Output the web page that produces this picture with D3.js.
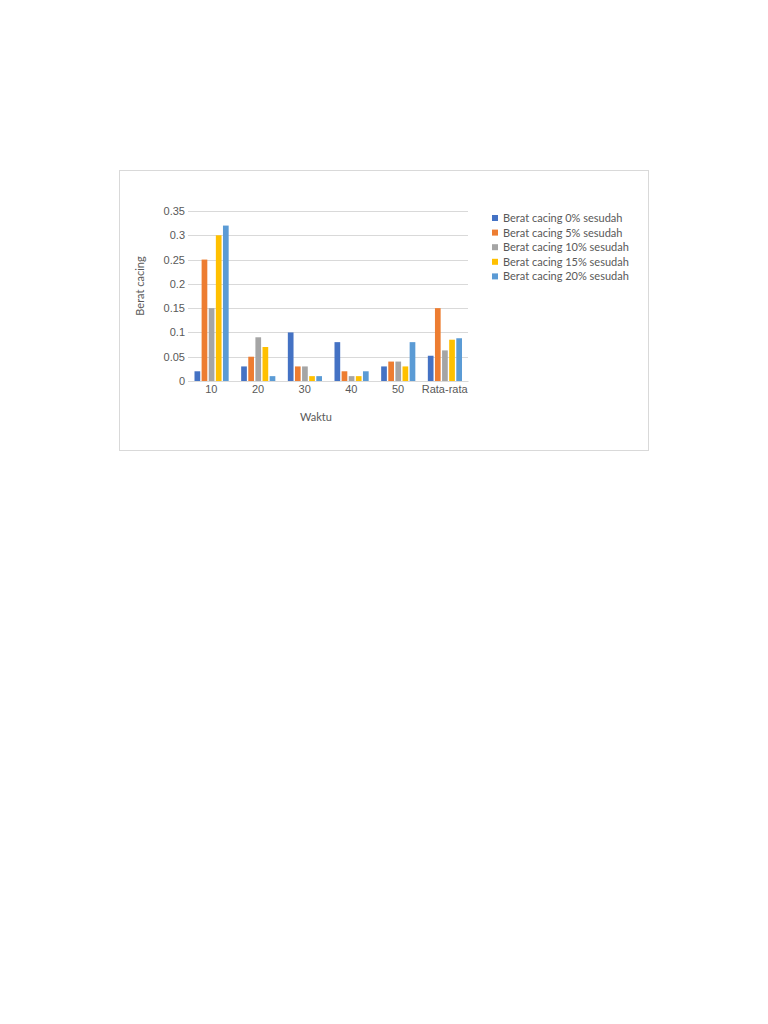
<html>
<head>
<script src="https://cdn.jsdelivr.net/npm/d3@7"></script>
<style>
  body{ margin:0; background:#fff; }
  svg{ font-family: Lato, "Open Sans", sans-serif; }
  .grid line{ stroke:#d9d9d9; }
  .axis text{ fill:#595959; font-size:11px; }
</style>
</head>
<body>
<div id="container"></div>
<script>
var categories = ["10", "20", "30", "40", "50", "Rata-rata"];
var seriesNames = ["Berat cacing 0% sesudah", "Berat cacing 5% sesudah", "Berat cacing 10% sesudah", "Berat cacing 15% sesudah", "Berat cacing 20% sesudah"];
var s0 = [0.02, 0.03, 0.10, 0.08, 0.03, 0.052];
var s5 = [0.25, 0.05, 0.03, 0.02, 0.04, 0.15];
var s10 = [0.15, 0.09, 0.03, 0.01, 0.04, 0.063];
var s15 = [0.30, 0.07, 0.01, 0.01, 0.03, 0.085];
var s20 = [0.32, 0.01, 0.01, 0.02, 0.08, 0.088];
var yTicks = [0, 0.05, 0.1, 0.15, 0.2, 0.25, 0.3, 0.35];
var colors = ["#4472C4", "#ED7D31", "#A5A5A5", "#FFC000", "#5B9BD5"];

var series = [s0, s5, s10, s15, s20];

var svg = d3.select("#container").append("svg")
  .attr("width", 768).attr("height", 1024);

// chart frame
svg.append("rect")
  .attr("x", 119.5).attr("y", 170.5)
  .attr("width", 529).attr("height", 280)
  .attr("fill", "#fff").attr("stroke", "#d9d9d9");

var plotL = 188, plotR = 468, plotT = 211, plotB = 381;

var x = d3.scaleBand().domain(categories).range([plotL, plotR]).paddingInner(0).paddingOuter(0);
var xs = d3.scaleBand().domain(d3.range(series.length)).range([6.5, x.bandwidth() - 6]).paddingInner(0.2);
var y = d3.scaleLinear().domain([0, 0.35]).range([plotB, plotT]);

// gridlines
svg.append("g").attr("class", "grid")
  .selectAll("line").data(yTicks).enter().append("line")
  .attr("x1", plotL).attr("x2", plotR)
  .attr("y1", function(d){ return Math.round(y(d)) + 0.5; })
  .attr("y2", function(d){ return Math.round(y(d)) + 0.5; });

// bars
var groups = svg.append("g").selectAll("g").data(series).enter().append("g")
  .attr("fill", function(d, i){ return colors[i]; });

groups.each(function(vals, si){
  d3.select(this).selectAll("rect").data(vals).enter().append("rect")
    .attr("x", function(d, i){ return x(categories[i]) + xs(si); })
    .attr("width", xs.bandwidth())
    .attr("y", function(d){ return y(d); })
    .attr("height", function(d){ return y(0) - y(d); });
});

// y axis
var yAxis = d3.axisLeft(y).tickValues(yTicks).tickSize(0).tickPadding(0)
  .tickFormat(function(d){ return d === 0 ? "0" : String(d); });
var ya = svg.append("g").attr("class", "axis")
  .attr("transform", "translate(" + (plotL - 3) + ",0)")
  .call(yAxis);
ya.select(".domain").remove();

// x axis
var xAxis = d3.axisBottom(x).tickSize(0).tickPadding(4);
var xa = svg.append("g").attr("class", "axis")
  .attr("transform", "translate(0," + plotB + ")")
  .call(xAxis);
xa.select(".domain").attr("stroke", "#d9d9d9");

// axis titles
svg.append("text")
  .attr("transform", "translate(144," + ((plotT + plotB) / 2 - 10) + ") rotate(-90)")
  .attr("text-anchor", "middle")
  .attr("fill", "#595959").attr("font-size", 11)
  .text("Berat cacing");

svg.append("text")
  .attr("x", 316).attr("y", 421)
  .attr("text-anchor", "middle")
  .attr("fill", "#595959").attr("font-size", 11)
  .text("Waktu");

// legend
var legend = svg.append("g").selectAll("g").data(seriesNames).enter().append("g")
  .attr("transform", function(d, i){ return "translate(492," + (214 + i * 14.6) + ")"; });
legend.append("rect")
  .attr("width", 6).attr("height", 6).attr("y", 1)
  .attr("fill", function(d, i){ return colors[i]; });
legend.append("text")
  .attr("x", 11).attr("y", 8)
  .attr("fill", "#595959").attr("font-size", 11)
  .text(function(d){ return d; });
</script>
</body>
</html>
